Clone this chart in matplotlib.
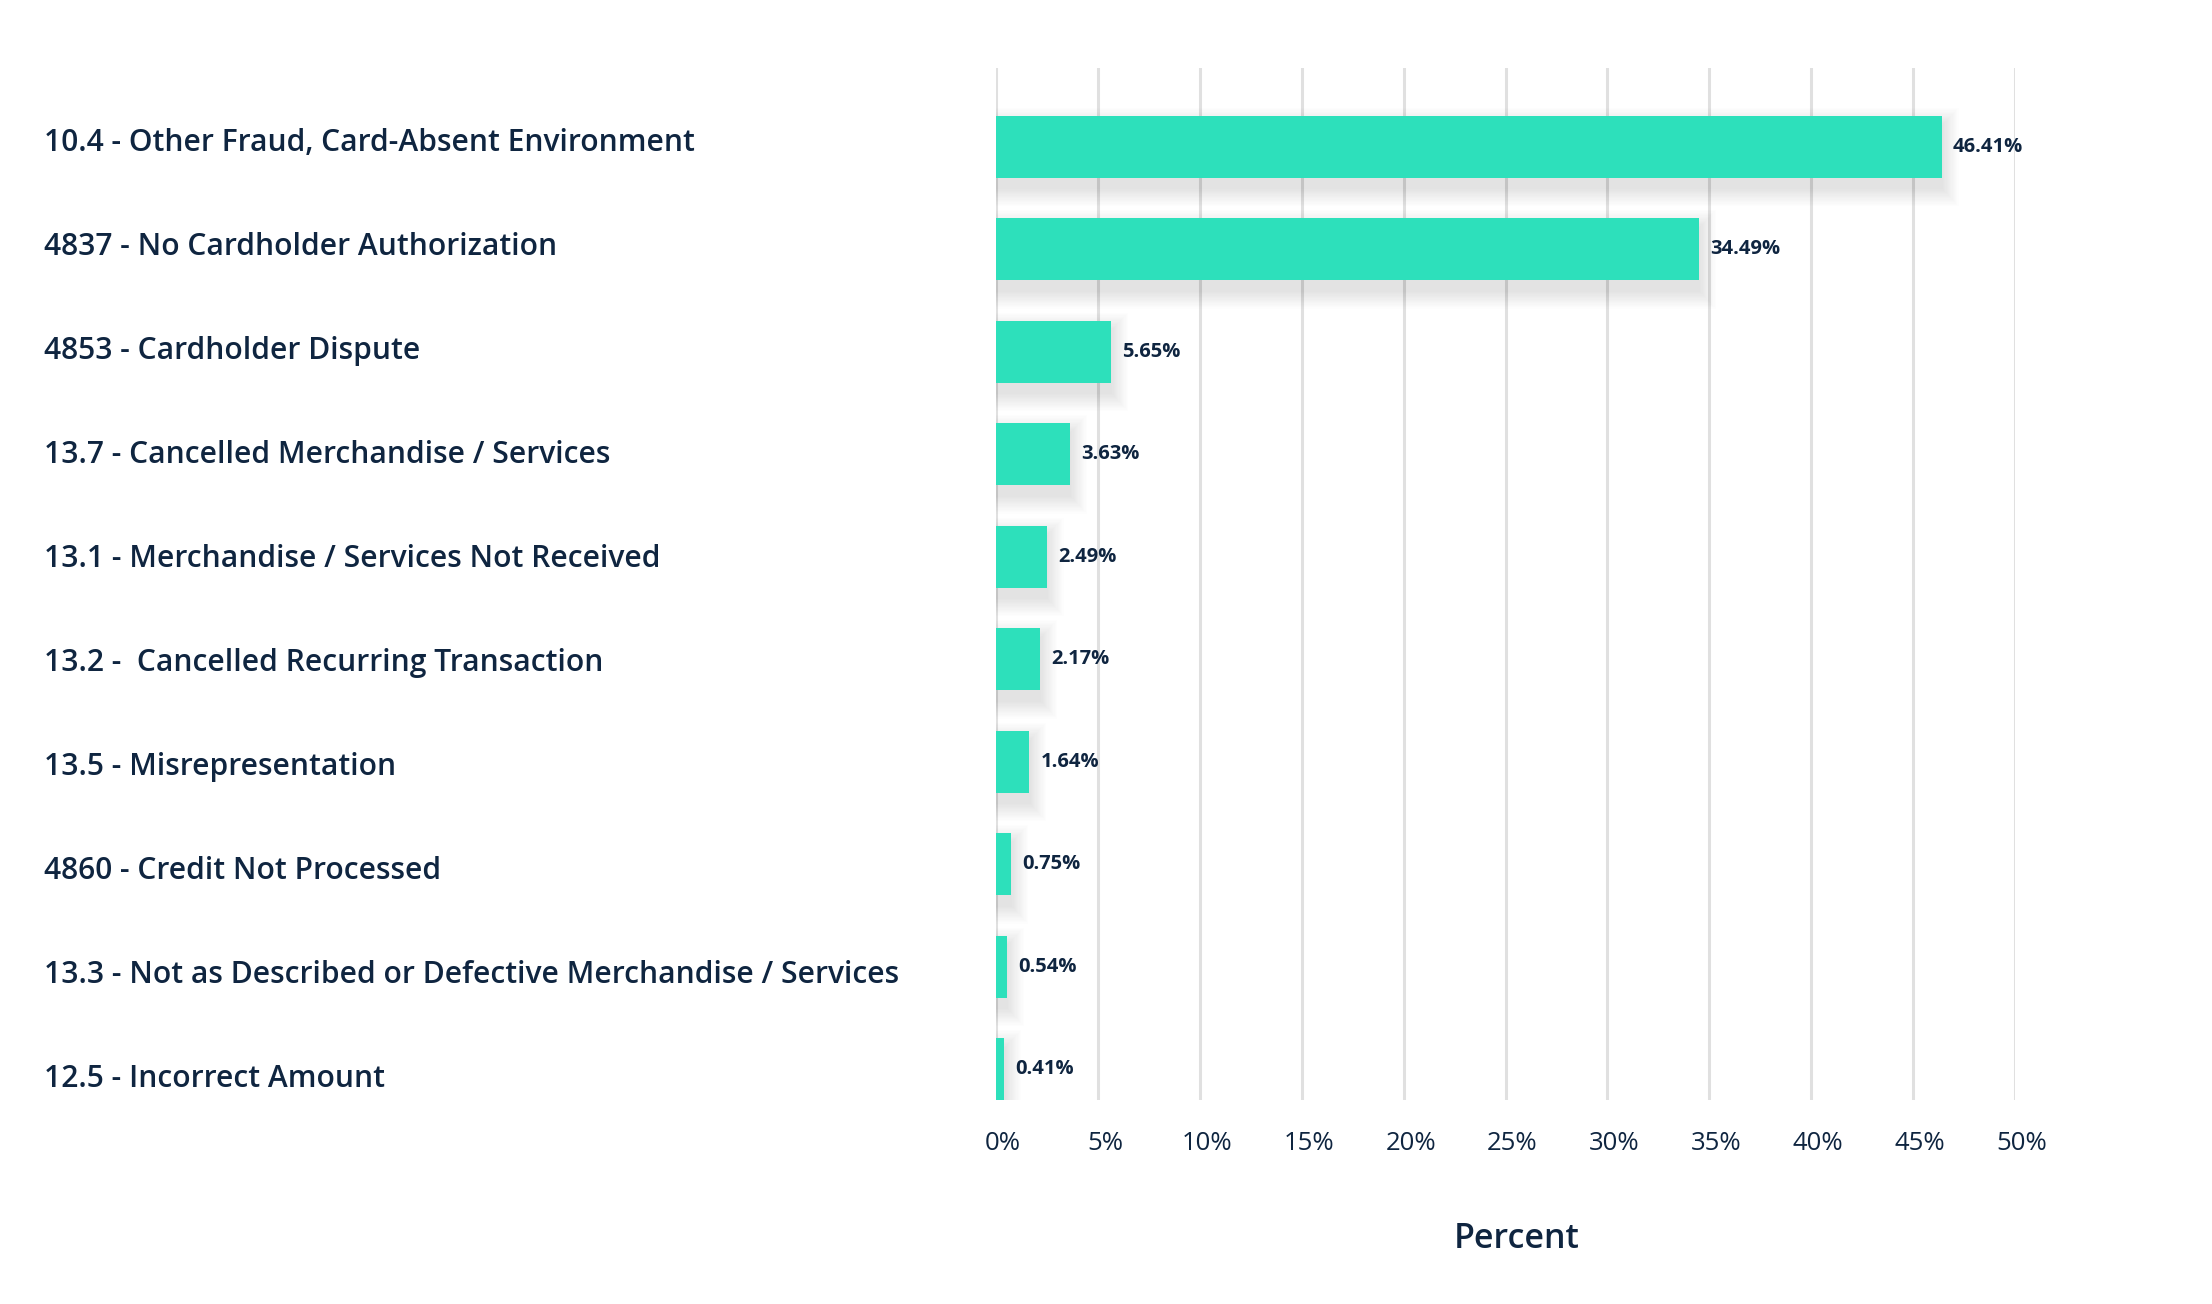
import matplotlib
matplotlib.use("Agg")
import matplotlib.pyplot as plt
import matplotlib.transforms as mtransforms
import numpy as np

# chargeback reason codes and their share (%)
reasons = [
    "10.4 - Other Fraud, Card-Absent Environment",
    "4837 - No Cardholder Authorization",
    "4853 - Cardholder Dispute",
    "13.7 - Cancelled Merchandise / Services",
    "13.1 - Merchandise / Services Not Received",
    "13.2 -  Cancelled Recurring Transaction",
    "13.5 - Misrepresentation",
    "4860 - Credit Not Processed",
    "13.3 - Not as Described or Defective Merchandise / Services",
    "12.5 - Incorrect Amount",
]
percent = [46.41, 34.49, 5.65, 3.63, 2.49, 2.17, 1.64, 0.75, 0.54, 0.41]
xticks = [0, 5, 10, 15, 20, 25, 30, 35, 40, 45, 50]

bar_color = "#2de0bb"
text_color = "#0f2540"
grid_color = "#e0e0e0"

plt.rcParams['font.family'] = ['Open Sans', 'DejaVu Sans']

fig = plt.figure(figsize=(22.12, 13.04), dpi=100)
ax = fig.add_axes([996 / 2212, 1 - 1100 / 1304, 1019 / 2212, 1032 / 1304])

y = np.arange(len(reasons))
vals = np.array(percent)

# blurred drop shadow: stacked translucent bars growing outward
px_x = 50 / 1019
px_y = 1 / 102.4
for k in range(1, 15):
    ax.barh(y + 10 * px_y, vals + k * 1.2 * px_x, height=0.605 + 2 * k * 1.3 * px_y,
            color="#000000", alpha=0.009, zorder=2, linewidth=0)

ax.barh(y, vals, height=0.605, color=bar_color, zorder=3, linewidth=0)

for yi, v in zip(y, percent):
    ax.annotate(f"{v:.2f}%", (v, yi), xytext=(8, 0), textcoords="offset points",
                va="center", ha="left", fontsize=14.5, fontweight="bold",
                color=text_color, zorder=4)

ax.set_xlim(0, 50)
ax.set_ylim(9.30, -0.77)
ax.set_xticks(xticks)
ax.set_xticklabels([f"{t}%" for t in xticks])
ax.set_yticks([])
ax.tick_params(axis="x", length=0, pad=22, labelsize=18.5, labelcolor=text_color)
shift = mtransforms.ScaledTranslation(7 / 100, 0, fig.dpi_scale_trans)
for lbl in ax.get_xticklabels():
    lbl.set_transform(lbl.get_transform() + shift)
ax.grid(axis="x", color=grid_color, linewidth=2.2, zorder=0)
for s in ax.spines.values():
    s.set_visible(False)

fig.text(1517 / 2212, 1 - 1239 / 1304, "Percent", ha="center", va="center",
         fontsize=24.5, fontweight="semibold", color=text_color)

# category labels sit on their own slightly wider spacing
label_y = np.linspace(1 - 143 / 1304, 1 - 1079 / 1304, len(reasons))
for ly, lab in zip(label_y, reasons):
    fig.text(44 / 2212, ly, lab, ha="left", va="center",
             fontsize=21.6, fontweight="semibold", color=text_color)

fig.savefig("out.png", dpi=100, facecolor="white")
